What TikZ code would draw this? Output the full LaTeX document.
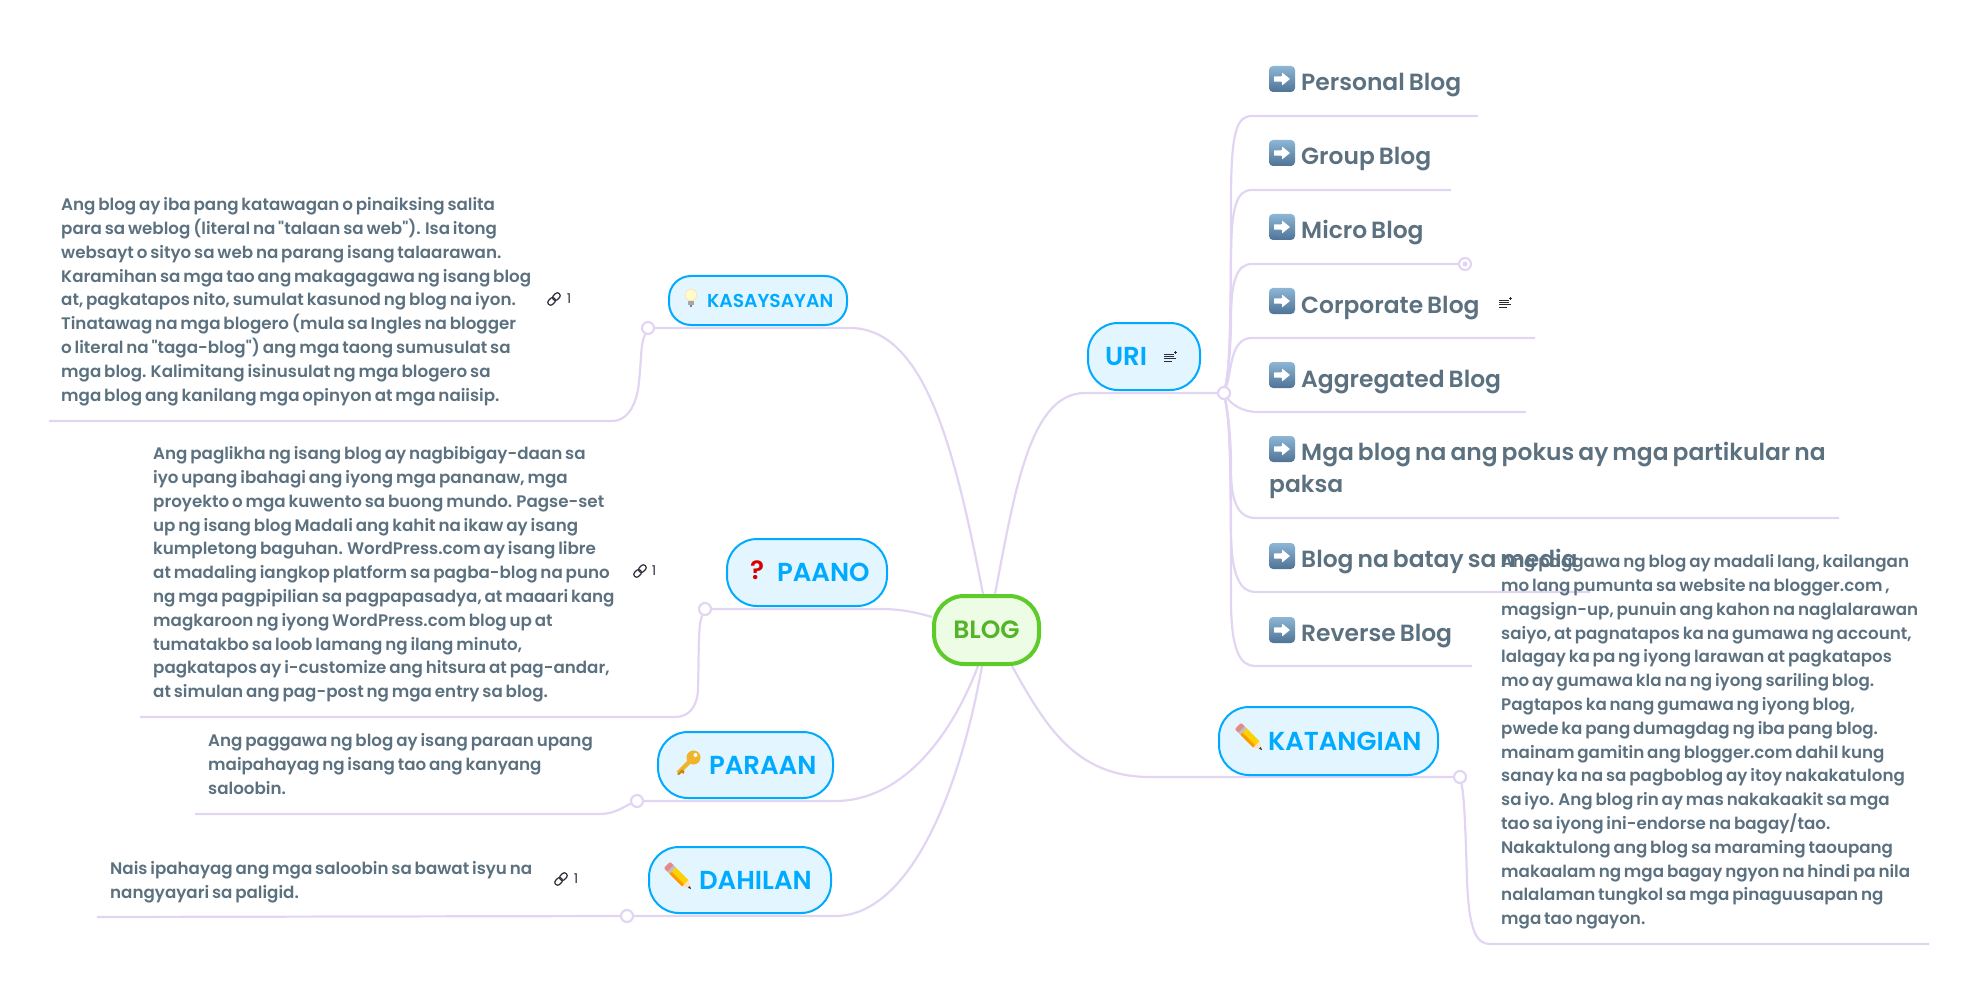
\documentclass[tikz,border=0pt]{standalone}
\usepackage{fontspec}
\setmainfont{Poppins}[Ligatures=TeXOff,BoldFont={Poppins SemiBold},WordSpace=0.72]
\usetikzlibrary{backgrounds}
\definecolor{lineC}{HTML}{E2D4F3}
\definecolor{txtC}{HTML}{5C7180}
\definecolor{blueC}{HTML}{00AAFF}
\definecolor{blueF}{HTML}{E3F5FF}
\definecolor{greenC}{HTML}{5DCB2A}
\definecolor{greenF}{HTML}{EDFCE4}
\definecolor{greenT}{HTML}{52B426}
\definecolor{inkC}{HTML}{2B2B3A}
\definecolor{arrTop}{HTML}{8DB6D6}
\definecolor{arrBot}{HTML}{4E7396}
\definecolor{goldC}{HTML}{F0B429}
\definecolor{goldD}{HTML}{C8861A}
\newcommand{\szT}{\fontsize{16.7}{23.8}\selectfont\bfseries}
\newcommand{\szC}{\fontsize{23.4}{32}\selectfont\bfseries}
\newcommand{\szH}{\fontsize{26}{32}\selectfont\bfseries}
\newcommand{\rl}{\rule{0pt}{16pt}}
\newcommand{\tl}[2]{\makebox[#1pt][l]{#2}}
\tikzset{
 x=1pt,y=-1pt,
 conn/.style={draw=lineC,line width=2.2pt},
 hubnode/.style={circle,draw=lineC,fill=white,line width=2.2pt,minimum size=12pt,inner sep=0pt},
 topic/.style={rectangle,draw=blueC,fill=blueF,line width=2pt,text=blueC,rounded corners=30pt,font=\szH},
 rootnode/.style={rectangle,draw=greenC,fill=greenF,line width=4pt,text=greenT,rounded corners=30pt,minimum width=105pt,minimum height=68pt,font=\fontsize{25}{30}\selectfont\bfseries},
 childtext/.style={text=txtC,inner sep=0pt,anchor=base west,font=\szC},
 para/.style={text=txtC,inner sep=0pt,anchor=north west,align=left,font=\szT},
 arrowemoji/.pic={
  \shade[top color=arrTop,bottom color=arrBot,rounded corners=4pt] (-13,-13) rectangle (13,13);
  \fill[white,rounded corners=0.6pt] (-8,-2.7)--(0,-2.7)--(0,-6.5)--(8,0)--(0,6.5)--(0,2.7)--(-8,2.7)--cycle;
 },
 pencilemoji/.pic={
  \begin{scope}[rotate=-45]
  \fill[rounded corners=1pt,fill=red!45!white!80!gray] (-17,-4.5) rectangle (-11,4.5);
  \fill[gray!50] (-12,-4.5) rectangle (-9,4.5);
  \fill[yellow!70!orange] (-9,-4.5) rectangle (9,4.5);
  \fill[orange!80!yellow] (-9,1.5) rectangle (9,4.5);
  \fill[orange!25!white] (9,-4.5)--(16,0)--(9,4.5)--cycle;
  \fill[inkC] (14,-1.3)--(17,0)--(14,1.3)--cycle;
  \end{scope}
 },
 keyemoji/.pic={
  \fill[goldC] (2.5,-5.5) -- (5.5,-2.5) -- (-8.5,11.5) -- (-11.5,8.5) -- cycle;
  \fill[goldD] (-9,12) -- (-6.5,9.5) -- (-4.5,11) -- (-3.5,8) -- (-6,6.5) -- (-11,11) -- cycle;
  \fill[goldC] (5.5,-5.5) circle (7);
  \fill[white] (7.5,-8) circle (2);
 },
 bulbemoji/.pic={
  \fill[yellow!22!white] (0,-3) circle (5.7);
  \draw[orange!25!white,line width=.7pt] (0,-3) circle (5.7);
  \fill[gray!70] (-2.6,3) rectangle (2.6,7.5);
  \fill[gray] (-1.3,7.5) rectangle (1.3,9);
 },
 notesicon/.pic={
  \fill[inkC] (-6,-3.4) rectangle (3.5,-2.5);
  \fill[inkC] (-6,-1.0) rectangle (3.5,-0.1);
  \fill[inkC] (-6,1.4) rectangle (6,2.3);
  \fill[inkC] (-6,3.9) rectangle (2,4.8);
  \fill[inkC] (3.7,-4.8) rectangle (6.7,-4.2);
  \fill[inkC] (4.9,-6) rectangle (5.5,-3);
 },
 linkicon/.pic={
  \begin{scope}[rotate=45,line width=1.2pt,draw=inkC]
  \draw[rounded corners=2.5pt] (-7.5,-2.8) rectangle (0.8,2.8);
  \draw[rounded corners=2.5pt] (-0.8,-2.8) rectangle (7.5,2.8);
  \end{scope}
 },
}
\begin{document}
\begin{tikzpicture}
\useasboundingbox (0,0) rectangle (1978,992);
% root and topics
\node[rootnode] (blog) at (986.5,630) {BLOG};
\node[topic,minimum height=67pt,inner xsep=17pt] (uri) at (1144,356.5) {\tl{78}{URI}};
\node[topic,minimum height=49pt,inner xsep=38pt,rounded corners=22pt,font=\fontsize{18.7}{24}\selectfont\bfseries] (kas) at (758,300.5) {\tl{102}{KASAYSAYAN}};
\node[topic,minimum height=67pt,inner xsep=50pt] (paano) at (807,572.5) {\tl{60}{PAANO}};
\node[topic,minimum height=66pt,inner xsep=51pt] (paraan) at (745.5,765) {\tl{73}{PARAAN}};
\node[topic,minimum height=66pt,inner xsep=50pt] (dahilan) at (740,880) {\tl{82}{DAHILAN}};
\node[topic,minimum height=68pt,inner xsep=49pt] (kat) at (1328.5,741) {\tl{121}{KATANGIAN}};
% hubs
\node[hubnode] (hubU) at (1224,393) {};
\node[hubnode] (hubK) at (1460,777) {};
\node[hubnode] (hubS) at (648,328) {};
\node[hubnode] (hubP) at (705,609) {};
\node[hubnode] (hubR) at (637,801) {};
\node[hubnode] (hubD) at (627,916) {};
\node[hubnode] (hubM) at (1465,264) {};
\fill[lineC] (hubM.center) circle (2.5);
% free ends
\coordinate (e1) at (1478,116);
\coordinate (e2) at (1451,190);
\coordinate (e4) at (1535,338);
\coordinate (e5) at (1526,412);
\coordinate (e6) at (1839,518);
\coordinate (e7) at (1590,592);
\coordinate (e8) at (1472,666);
\coordinate (eK) at (1929,944);
\coordinate (eS) at (49,421);
\coordinate (eP) at (140,717);
\coordinate (eR) at (195,814);
\coordinate (eD) at (97,917);
\begin{scope}[on background layer]
\draw[conn] (blog.north)++(8.5,0) .. controls (1015,490) and (1030,393) .. (1085,393) -- (hubU);
\draw[conn] (blog.north)++(-3.5,0) .. controls (955,450) and (925,328) .. (850,328) -- (hubS);
\draw[conn] (blog.west)++(0,-13) .. controls (915,612) and (900,609) .. (880,609) -- (hubP);
\draw[conn] (blog.south)++(-8.5,0) .. controls (950,740) and (900,801) .. (835,801) -- (hubR);
\draw[conn] (blog.south)++(-4.5,0) .. controls (960,790) and (910,916) .. (835,916) -- (hubD);
\draw[conn] (blog.south)++(25.5,0) .. controls (1045,725) and (1075,777) .. (1150,777) -- (hubK);
% URI children
\draw[conn] (hubU) .. controls (1229,370) and (1231,340) .. (1231,200) .. controls (1231,130) and (1237,116) .. (1252,116) -- (e1);
\draw[conn] (hubU) .. controls (1229,370) and (1231,340) .. (1231,260) .. controls (1231,205) and (1237,190) .. (1252,190) -- (e2);
\draw[conn] (hubU) .. controls (1229,370) and (1231,340) .. (1231,320) .. controls (1231,280) and (1237,264) .. (1252,264) -- (hubM);
\draw[conn] (hubU) .. controls (1232,370) and (1230,338) .. (1252,338) -- (e4);
\draw[conn] (hubU) .. controls (1230,402) and (1240,412) .. (1258,412) -- (e5);
\draw[conn] (hubU) .. controls (1229,420) and (1231,440) .. (1231,470) .. controls (1231,505) and (1240,518) .. (1255,518) -- (e6);
\draw[conn] (hubU) .. controls (1229,420) and (1231,440) .. (1231,530) .. controls (1231,575) and (1240,592) .. (1255,592) -- (e7);
\draw[conn] (hubU) .. controls (1229,420) and (1231,440) .. (1231,600) .. controls (1231,650) and (1240,666) .. (1255,666) -- (e8);
% text branches
\draw[conn] (hubK) .. controls (1465,800) and (1466,850) .. (1467,880) .. controls (1469,930) and (1476,944) .. (1490,944) -- (eK);
\draw[conn] (hubS) .. controls (640,345) and (642,360) .. (638,390) .. controls (634,410) and (625,421) .. (612,421) -- (eS);
\draw[conn] (hubP) .. controls (698,625) and (699,650) .. (698,690) .. controls (697,708) and (688,717) .. (675,717) -- (eP);
\draw[conn] (hubR) .. controls (625,806) and (615,814) .. (600,814) -- (eR);
\draw[conn] (hubD) -- (eD);
\end{scope}
% children
\pic at (1282,79) {arrowemoji};
\pic at (1282,153) {arrowemoji};
\pic at (1282,227) {arrowemoji};
\pic at (1282,301) {arrowemoji};
\pic at (1282,375) {arrowemoji};
\pic at (1282,449) {arrowemoji};
\pic at (1282,556) {arrowemoji};
\pic at (1282,630) {arrowemoji};
\node[childtext] (c1) at (1301,91) {Personal Blog};
\node[childtext] (c2) at (1301,165) {Group Blog};
\node[childtext] (c3) at (1301,239) {Micro Blog};
\node[childtext] (c4) at (1301,313) {Corporate Blog};
\node[childtext] (c5) at (1301,387) {Aggregated Blog};
\node[childtext,anchor=north west,align=left] (c6) at (1269,438) {\rule{0pt}{22pt}\hspace*{32pt}Mga blog na ang pokus ay mga partikular na\\paksa};
\node[childtext] (c7) at (1301,567) {Blog na batay sa media};
\node[childtext] (c8) at (1301,641) {Reverse Blog};
% icons
\pic at (1170,357) {notesicon};
\pic at (1505,303) {notesicon};
\pic at (691,298) {bulbemoji};
\pic at (688,763) {keyemoji};
\pic at (679,877) {pencilemoji};
\pic at (1250,738) {pencilemoji};
\node[text=red!85!black,inner sep=0pt,font=\fontsize{26}{32}\selectfont\bfseries] (qm) at (757,570) {?};
\pic at (554,299) {linkicon};
\node[text=inkC,inner sep=0pt,font=\fontsize{13.5}{14}\selectfont] (n1) at (569,299) {1};
\pic at (640,571) {linkicon};
\node[text=inkC,inner sep=0pt,font=\fontsize{13.5}{14}\selectfont] (n2) at (654,571) {1};
\pic at (561,879) {linkicon};
\node[text=inkC,inner sep=0pt,font=\fontsize{13.5}{14}\selectfont] (n3) at (576,879) {1};
% paragraphs
\node[para] (tS) at (61,194.5) {\rl Ang blog ay iba pang katawagan o pinaiksing salita\\
para sa weblog (literal na "talaan sa web"). Isa itong\\
websayt o sityo sa web na parang isang talaarawan.\\
Karamihan sa mga tao ang makagagawa ng isang blog\\
at, pagkatapos nito, sumulat kasunod ng blog na iyon.\\
Tinatawag na mga blogero (mula sa Ingles na blogger\\
o literal na "taga-blog") ang mga taong sumusulat sa\\
mga blog. Kalimitang isinusulat ng mga blogero sa\\
mga blog ang kanilang mga opinyon at mga naiisip.};
\node[para] (tP) at (153,443.5) {\rl Ang paglikha ng isang blog ay nagbibigay-daan sa\\
iyo upang ibahagi ang iyong mga pananaw, mga\\
proyekto o mga kuwento sa buong mundo. Pagse-set\\
up ng isang blog Madali ang kahit na ikaw ay isang\\
kumpletong baguhan. WordPress.com ay isang libre\\
at madaling iangkop platform sa pagba-blog na puno\\
ng mga pagpipilian sa pagpapasadya, at maaari kang\\
magkaroon ng iyong WordPress.com blog up at\\
tumatakbo sa loob lamang ng ilang minuto,\\
pagkatapos ay i-customize ang hitsura at pag-andar,\\
at simulan ang pag-post ng mga entry sa blog.};
\node[para] (tR) at (208,730.5) {\rl Ang paggawa ng blog ay isang paraan upang\\
maipahayag ng isang tao ang kanyang\\
saloobin.};
\node[para] (tD) at (110,858) {\rl Nais ipahayag ang mga saloobin sa bawat isyu na\\
nangyayari sa paligid.};
\node[para] (tK) at (1501,551.5) {\rl Ang paggawa ng blog ay madali lang, kailangan\\
mo lang pumunta sa website na blogger.com ,\\
magsign-up, punuin ang kahon na naglalarawan\\
saiyo, at pagnatapos ka na gumawa ng account,\\
lalagay ka pa ng iyong larawan at pagkatapos\\
mo ay gumawa kla na ng iyong sariling blog.\\
Pagtapos ka nang gumawa ng iyong blog,\\
pwede ka pang dumagdag ng iba pang blog.\\
mainam gamitin ang blogger.com dahil kung\\
sanay ka na sa pagboblog ay itoy nakakatulong\\
sa iyo. Ang blog rin ay mas nakakaakit sa mga\\
tao sa iyong ini-endorse na bagay/tao.\\
Nakaktulong ang blog sa maraming taoupang\\
makaalam ng mga bagay ngyon na hindi pa nila\\
nalalaman tungkol sa mga pinaguusapan ng\\
mga tao ngayon.};
\end{tikzpicture}
\end{document}
